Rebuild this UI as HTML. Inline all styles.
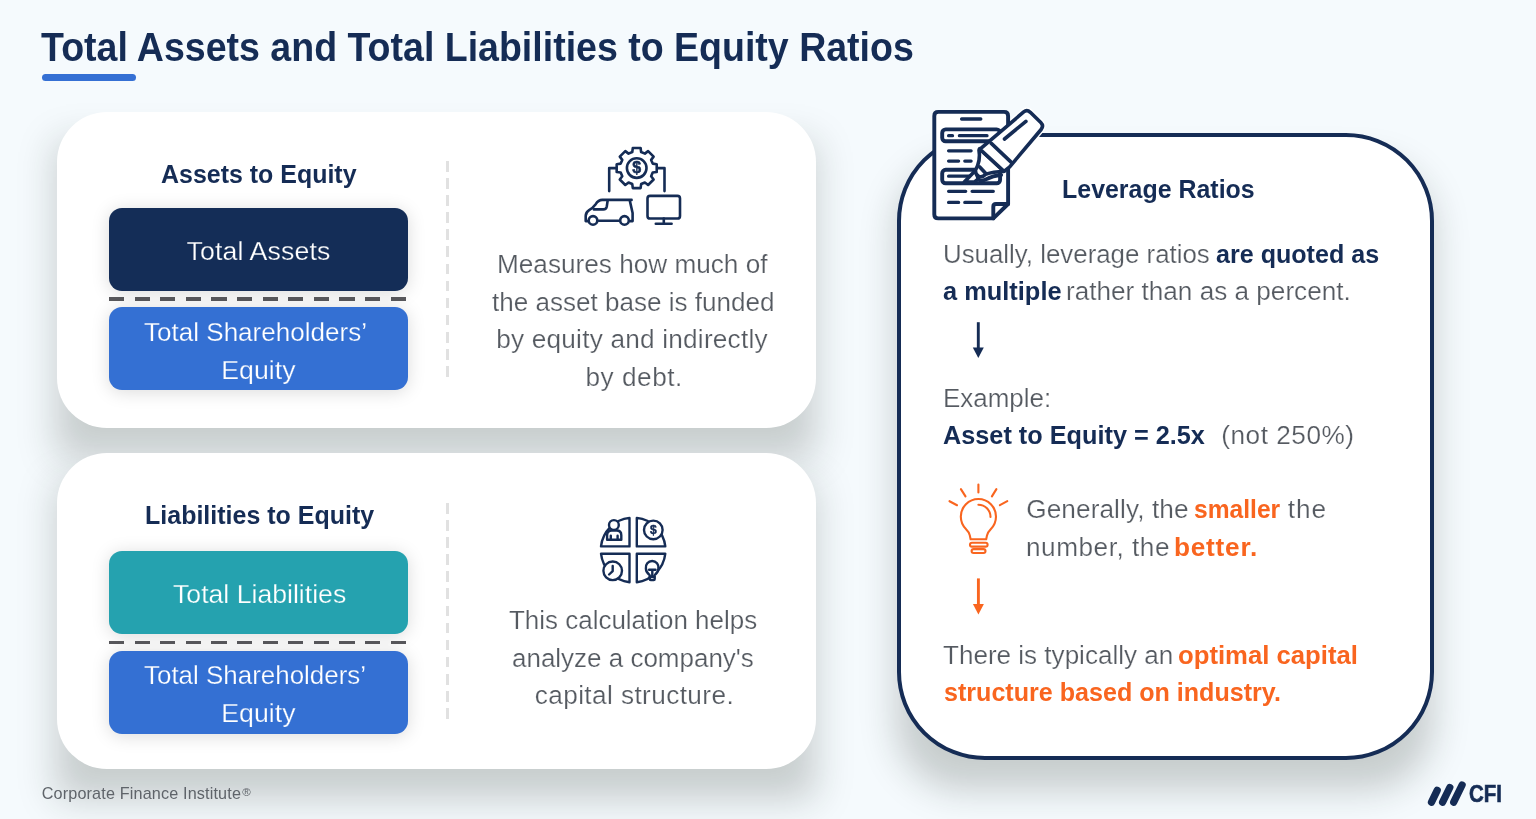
<!DOCTYPE html>
<html lang="en">
<head>
<meta charset="utf-8">
<title>Total Assets and Total Liabilities to Equity Ratios</title>
<style>
html,body{margin:0;padding:0}
body{width:1536px;height:819px;position:relative;overflow:hidden;background:#f5fafd;font-family:"Liberation Sans",sans-serif}
.t{position:absolute;margin:0;padding:0;line-height:1;white-space:nowrap;display:block}
.nv{color:#152c55}
.wh{color:#fff}
.xb{-webkit-text-stroke:.6px #152c55}
.gr{color:#555a61;-webkit-text-stroke:.22px #fff}
.ft{color:#5f646a}
.w1{-webkit-text-stroke:.25px #142d57}
.w2{-webkit-text-stroke:.25px #3470d3}
.w3{-webkit-text-stroke:.25px #25a2af}
.or{color:#f9651f}
.bar{position:absolute;left:42px;top:74px;width:94px;height:7.4px;border-radius:4px;background:#3570d4}
.card{position:absolute;left:57px;width:759px;height:315.5px;border-radius:50px;background:#fff}
.sh{position:absolute;border-radius:0px;box-shadow:-1px 30px 36px 40px rgba(30,40,30,.21)}
.panel{position:absolute;left:897px;top:133px;width:529px;height:618.5px;border:4px solid #152c55;border-radius:88px;background:#fff}
.box{position:absolute;left:109px;width:299px;height:83px;border-radius:13px;box-shadow:0 2px 18px rgba(0,0,0,.145)}
.dh{position:absolute;background:repeating-linear-gradient(90deg,#58585c 0,#58585c 15.2px,transparent 15.2px,transparent 25.6px)}
.dv{position:absolute;left:446.2px;width:2.8px;height:216px;background:repeating-linear-gradient(180deg,#e1e1e1 0,#e1e1e1 10.6px,transparent 10.6px,transparent 17.1px)}
svg.ic{position:absolute;left:0;top:0}
</style>
</head>
<body>
<h1 class="t nv" style="left:41.1px;top:27.00px;font-size:40px;font-weight:700;letter-spacing:0.000px;transform:scaleX(0.938);transform-origin:0.0px 50%">Total Assets and Total Liabilities to Equity Ratios</h1>
<div class="bar"></div>

<div class="sh" style="left:97px;top:152px;width:679px;height:235.5px"></div>
<div class="sh" style="left:97px;top:493.4px;width:679px;height:235.5px"></div>
<div class="sh" style="left:937px;top:173px;width:457px;height:546.5px;border-radius:28px"></div>
<section class="card" style="top:112px"></section>
<section class="card" style="top:453.4px"></section>
<aside class="panel"></aside>

<div class="box" style="top:208px;background:#142d57"></div>
<div class="dh" style="left:108.8px;top:297.1px;width:296.8px;height:3.8px"></div>
<div class="box" style="top:307px;background:#3470d3"></div>
<div class="dv" style="top:160.6px"></div>
<h2 class="t nv" style="left:160.9px;top:161.00px;font-size:26px;font-weight:700;letter-spacing:0.000px;transform:scaleX(0.960);transform-origin:0.0px 50%">Assets to Equity</h2>
<div class="t wh w1" style="left:186.5px;top:238.00px;font-size:26.7px;font-weight:400;letter-spacing:0.132px">Total Assets</div>
<div class="t wh w2" style="left:144.3px;top:319.00px;font-size:26.7px;font-weight:400;letter-spacing:0.000px;transform:scaleX(0.976);transform-origin:0.0px 50%">Total Shareholders’</div>
<div class="t wh w2" style="left:221.3px;top:357.00px;font-size:26.7px;font-weight:400;letter-spacing:0.007px">Equity</div>
<div class="t gr" style="left:496.9px;top:251.00px;font-size:26.2px;font-weight:400;letter-spacing:0.000px;transform:scaleX(0.999);transform-origin:2.0px 50%">Measures how much of</div>
<div class="t gr" style="left:491.6px;top:289.00px;font-size:26.2px;font-weight:400;letter-spacing:0.000px;transform:scaleX(0.995);transform-origin:0.0px 50%">the asset base is funded</div>
<div class="t gr" style="left:496.2px;top:326.00px;font-size:26.2px;font-weight:400;letter-spacing:0.216px">by equity and indirectly</div>
<div class="t gr" style="left:585.4px;top:364.00px;font-size:26.2px;font-weight:400;letter-spacing:0.543px">by debt.</div>

<div class="box" style="top:551px;background:#25a2af"></div>
<div class="dh" style="left:108.8px;top:640.5px;width:296.8px;height:3.8px"></div>
<div class="box" style="top:651px;background:#3470d3"></div>
<div class="dv" style="top:503.2px"></div>
<h2 class="t nv" style="left:144.5px;top:502.00px;font-size:26px;font-weight:700;letter-spacing:0.000px;transform:scaleX(0.961);transform-origin:1.0px 50%">Liabilities to Equity</h2>
<div class="t wh w3" style="left:172.9px;top:581.00px;font-size:26.7px;font-weight:400;letter-spacing:0.000px;transform:scaleX(0.998);transform-origin:0.0px 50%">Total Liabilities</div>
<div class="t wh w2" style="left:144.0px;top:662.00px;font-size:26.7px;font-weight:400;letter-spacing:0.000px;transform:scaleX(0.972);transform-origin:0.0px 50%">Total Shareholders’</div>
<div class="t wh w2" style="left:221.3px;top:700.00px;font-size:26.7px;font-weight:400;letter-spacing:0.007px">Equity</div>
<div class="t gr" style="left:509.1px;top:607.00px;font-size:26.2px;font-weight:400;letter-spacing:0.000px;transform:scaleX(0.991);transform-origin:0.0px 50%">This calculation helps</div>
<div class="t gr" style="left:512.0px;top:645.00px;font-size:26.2px;font-weight:400;letter-spacing:0.000px;transform:scaleX(0.992);transform-origin:1.0px 50%">analyze a company's</div>
<div class="t gr" style="left:534.7px;top:682.00px;font-size:26.2px;font-weight:400;letter-spacing:0.406px">capital structure.</div>

<svg class="ic" width="1536" height="819" viewBox="0 0 1536 819">
<g fill="none" stroke="#152c55" stroke-width="2.6" stroke-linecap="round" stroke-linejoin="round">
<path d="M632.27,152.06 L632.81,148.03 L640.60,148.03 L641.14,152.06 L644.88,153.61 L648.11,151.15 L653.62,156.65 L651.15,159.88 L652.70,163.62 L656.73,164.17 L656.73,171.95 L652.70,172.49 L651.15,176.23 L653.62,179.47 L648.11,184.97 L644.88,182.51 L641.14,184.05 L640.60,188.08 L632.81,188.08 L632.27,184.05 L628.53,182.51 L625.30,184.97 L619.79,179.47 L622.26,176.23 L620.71,172.49 L616.68,171.95 L616.68,164.17 L620.71,163.62 L622.26,159.88 L619.79,156.65 L625.30,151.15 L628.53,153.61 Z"/>
<circle cx="636.7" cy="168.1" r="9.8"/>
<path d="M615.8,168.1 L609.2,168.1 L609.2,191.1"/>
<path d="M657.7,168.1 L664.5,168.1 L664.5,191.1"/>
<path d="M587.5,221.1 L585.7,221.1 L585.7,216.0 Q585.7,212.3 589.1,210.1 Q593.0,207.9 595.7,204.2 Q598.3,199.9 602.3,199.9 L631.6,199.9 M629.8,200.6 L632.6,213.0 L632.6,221.1 L630.1,221.1 M598.6,220.8 L619.1,220.8"/>
<path d="M607.7,200.3 L606.8,206.4 Q606.2,209.4 603.3,209.4 L593.9,209.4"/>
<circle cx="593.0" cy="220.4" r="4.3"/>
<circle cx="624.5" cy="220.4" r="4.3"/>
<rect x="647.5" y="195.9" width="32.5" height="22.6" rx="2.6"/>
<path d="M663.8,218.5 L663.8,223.7 M655.8,223.7 L671.6,223.7"/>
</g>
<text x="636.7" y="173.4" text-anchor="middle" font-family="Liberation Sans, sans-serif" font-weight="700" font-size="16" fill="#152c55" stroke="#152c55" stroke-width="0.5">$</text>
<g fill="none" stroke="#152c55" stroke-width="2.4" stroke-linecap="round" stroke-linejoin="round">
<path d="M629.5,546.4 L629.5,517.9 A32.36,32.36 0 0 0 601.0,546.4 Z"/>
<path d="M636.8,546.4 L636.8,517.9 A32.36,32.36 0 0 1 665.3,546.4 Z"/>
<path d="M629.5,553.7 L629.5,582.2 A32.36,32.36 0 0 1 601.0,553.7 Z"/>
<path d="M636.8,553.7 L636.8,582.2 A32.36,32.36 0 0 0 665.3,553.7 Z"/>
</g>
<g fill="#fff" stroke="#152c55" stroke-width="2.4" stroke-linecap="round" stroke-linejoin="round">
<path d="M607.1,539.7 L607.1,535.2 Q607.1,530.5 611.7,530.5 L616.6,530.5 Q621.3,530.5 621.3,535.2 L621.3,539.7 Z"/>
<path d="M610.8,535.7 L610.8,539.7 M617.6,535.7 L617.6,539.7" fill="none"/>
<circle cx="613.9" cy="525.0" r="4.9"/>
<circle cx="653.3" cy="529.9" r="9.3"/>
<circle cx="612.7" cy="570.8" r="9.3"/>
<path d="M612.7,565.9 L612.7,571.1 L609.1,574.5" fill="none"/>
<path d="M649.6,576.7 L649.6,575.1 Q645.9,572.0 645.9,568.4 A6.35,6.35 0 1 1 658.4,568.4 Q658.4,572.0 654.7,575.1 L654.7,576.7 Z"/>
<rect x="649.8" y="576.7" width="4.9" height="3.3" rx="1"/>
<path d="M649.1,569.8 L655.5,569.8 M652.3,569.8 L652.3,576.3" fill="none"/>
</g>
<text x="653.3" y="534.0" text-anchor="middle" font-family="Liberation Sans, sans-serif" font-weight="700" font-size="12" fill="#152c55" stroke="#152c55" stroke-width="0.45">$</text>
<g fill="#fff" stroke="#fff" stroke-width="6.5" stroke-linejoin="round"><path d="M982.0,151.1 Q977.6,148.4 980.9,148.4 L1023.7,111.9 Q1027.0,109.3 1030.3,112.3 L1040.8,122.5 Q1044.1,125.8 1041.1,129.5 L1009.7,166.8 L1004.0,171.3 Z"/></g>
<g fill="#fff" stroke="#152c55" stroke-width="3.9" stroke-linecap="round" stroke-linejoin="round">
<path d="M938.3,111.9 L1004.1,111.9 Q1008.1,111.9 1008.1,115.9 L1008.1,204.0 L993.3,218.4 L938.3,218.4 Q934.3,218.4 934.3,214.4 L934.3,115.9 Q934.3,111.9 938.3,111.9 Z"/>
<path d="M993.3,218.4 L993.3,206.7 Q993.3,204.0 996.0,204.0 L1008.1,204.0" fill="none"/>
<rect x="942.2" y="129.4" width="57.9" height="11.9" rx="3.5"/>
<rect x="942.2" y="169.8" width="57.9" height="13.5" rx="3.5"/>
</g>
<g fill="none" stroke="#152c55" stroke-width="3.3" stroke-linecap="round" stroke-linejoin="round">
<path d="M961.6,119.0 L980.8,119.0 M948.6,135.7 L952.5,135.7 M959.4,135.7 L987.0,135.7 M948.6,150.8 L971.1,150.8 M948.6,161.1 L958.6,161.1 M964.8,161.1 L971.1,161.1 M948.6,176.2 L970.5,176.2 M948.6,191.3 L965.7,191.3 M972.1,191.3 L993.3,191.3 M948.6,202.4 L958.6,202.4 M964.8,202.4 L980.8,202.4"/>
</g>
<g fill="#fff" stroke="#152c55" stroke-width="3.6" stroke-linecap="round" stroke-linejoin="round">
<path d="M975.4,170.5 L964.3,182.1 L974.3,182.1 L978.3,178.8 Z"/>
<path d="M1001.3,174.9 C994.2,175.4 989.6,177.4 985.3,179.6 C982.9,180.8 979.8,181.0 978.1,179.1" fill="none"/>
<path d="M979.0,150.4 C980.5,158.3 978.0,165.6 975.4,170.5 C975.6,176.6 981.1,179.1 985.6,174.2 C990.5,172.7 996.6,171.7 1004.0,171.3 L982.0,151.0 Z"/>
<path d="M982.0,151.1 Q977.6,148.4 980.9,148.4 L1023.7,111.9 Q1027.0,109.3 1030.3,112.3 L1040.8,122.5 Q1044.1,125.8 1041.1,129.5 L1009.7,166.8 L1004.0,171.3 Z"/>
<path d="M991.3,143.4 L1011.1,162.1 M1004.5,139.0 L1025.9,121.4" fill="none"/>
<path d="M979.7,167.0 L985.6,173.3" fill="none"/>
</g>
<g fill="none" stroke="#f9651f" stroke-width="2.1" stroke-linecap="round" stroke-linejoin="round">
<path d="M970.6,539.3 L969.8,535.4 Q969.1,532.1 966.1,529.2 A17.58,17.58 0 1 1 990.7,529.2 Q987.8,532.1 987.0,535.4 L986.2,539.3 Z"/>
<path d="M978.4,504.8 A12.11,12.11 0 0 1 990.5,516.9"/>
<rect x="970.0" y="542.7" width="17.6" height="3.9" rx="2.0"/>
<rect x="971.6" y="549.1" width="13.9" height="3.9" rx="2.0"/>
<path d="M978.4,484.6 L978.4,492.5 M960.9,489.1 L965.5,496.4 M996.4,489.1 L991.9,496.4 M949.5,501.2 L957.0,505.2 M1007.3,501.2 L999.9,505.2"/>
</g>
<path d="M978.3,322.2 L978.3,352" stroke="#152c55" stroke-width="2.9" fill="none"/><path d="M972.8,347.5 L983.8,347.5 L978.3,358 Z" fill="#152c55"/>
<path d="M978.4,578.4 L978.4,608.5" stroke="#f9651f" stroke-width="2.9" fill="none"/><path d="M972.9,604.0 L983.9,604.0 L978.4,614.5 Z" fill="#f9651f"/>
<g stroke="#152c55" stroke-width="7.3" stroke-linecap="round" fill="none">
<path d="M1431.5,802.2 L1437.2,790.4"/>
<path d="M1442.6,802.2 L1449.8,787.5"/>
<path d="M1453.7,802.2 L1462.1,785.0"/>
</g>
</svg>

<h2 class="t nv" style="left:1062.0px;top:176.00px;font-size:26px;font-weight:700;letter-spacing:0.000px;transform:scaleX(0.959);transform-origin:1.0px 50%">Leverage Ratios</h2>
<span class="t gr" style="left:943.0px;top:241.00px;font-size:26.2px;font-weight:400;letter-spacing:0.000px;transform:scaleX(0.987);transform-origin:2.0px 50%">Usually, leverage ratios</span>
<b class="t nv" style="left:1215.8px;top:241.00px;font-size:26.2px;font-weight:700;letter-spacing:0.000px;transform:scaleX(0.958);transform-origin:0.0px 50%">are quoted as</b>
<b class="t nv" style="left:943.3px;top:278.00px;font-size:26.2px;font-weight:700;letter-spacing:0.000px;transform:scaleX(0.970);transform-origin:0.0px 50%">a multiple</b>
<span class="t gr" style="left:1066.4px;top:278.00px;font-size:26.2px;font-weight:400;letter-spacing:0.000px;transform:scaleX(0.998);transform-origin:1.0px 50%">rather than as a percent.</span>
<span class="t gr" style="left:942.8px;top:385.00px;font-size:26.2px;font-weight:400;letter-spacing:0.000px;transform:scaleX(0.991);transform-origin:2.0px 50%">Example:</span>
<b class="t nv" style="left:943.3px;top:422.00px;font-size:26.2px;font-weight:700;letter-spacing:0.000px;transform:scaleX(0.965);transform-origin:0.0px 50%">Asset to Equity = 2.5x</b>
<span class="t gr" style="left:1221.3px;top:422.00px;font-size:26.2px;font-weight:400;letter-spacing:0.518px">(not 250%)</span>
<span class="t gr" style="left:1026.2px;top:496.00px;font-size:26.2px;font-weight:400;letter-spacing:0.096px">Generally, the</span>
<b class="t or" style="left:1193.7px;top:496.00px;font-size:26.2px;font-weight:700;letter-spacing:0.000px;transform:scaleX(0.939);transform-origin:0.0px 50%">smaller</b>
<span class="t gr" style="left:1287.7px;top:496.00px;font-size:26.2px;font-weight:400;letter-spacing:0.976px">the</span>
<span class="t gr" style="left:1026.0px;top:534.00px;font-size:26.2px;font-weight:400;letter-spacing:0.518px">number, the</span>
<b class="t or" style="left:1173.9px;top:534.00px;font-size:26.2px;font-weight:700;letter-spacing:0.786px">better.</b>
<span class="t gr" style="left:943.2px;top:642.00px;font-size:26.2px;font-weight:400;letter-spacing:0.000px;transform:scaleX(0.995);transform-origin:0.0px 50%">There is typically an</span>
<b class="t or" style="left:1178.1px;top:642.00px;font-size:26.2px;font-weight:700;letter-spacing:0.000px;transform:scaleX(0.981);transform-origin:1.0px 50%">optimal capital</b>
<b class="t or" style="left:943.7px;top:679.00px;font-size:26.2px;font-weight:700;letter-spacing:0.000px;transform:scaleX(0.958);transform-origin:0.0px 50%">structure based on industry.</b>
<div class="t ft" style="left:41.7px;top:785.00px;font-size:16.2px;font-weight:400;letter-spacing:0.152px">Corporate Finance Institute</div>
<div class="t ft" style="left:242.3px;top:787.00px;font-size:11.5px;font-weight:400;letter-spacing:0.000px">®</div>
<div class="t nv xb" style="left:1468.6px;top:783.00px;font-size:23px;font-weight:700;letter-spacing:0.000px;transform:scaleX(0.889);transform-origin:0.0px 50%">CFI</div>
</body>
</html>
